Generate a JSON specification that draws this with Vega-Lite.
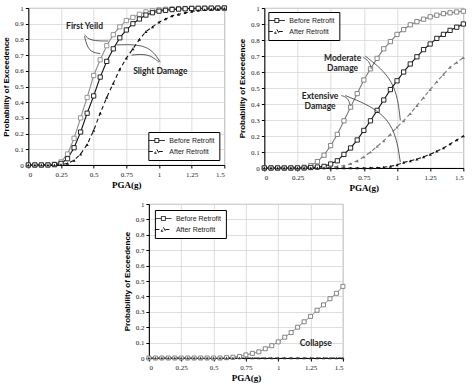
{
"$schema":"https://vega.github.io/schema/vega-lite/v6.json",
"padding":{"left":2,"top":3,"right":0,"bottom":0},
"background":"white",
"spacing":6,
"center":true,
"resolve":{"scale":{"color":"independent","strokeDash":"independent","x":"independent","y":"independent"},"legend":{"strokeDash":"independent","color":"independent"}},
"config":{
 "view":{"stroke":"#9a9a9a","strokeWidth":0.8},
 "axis":{"labelFont":"Liberation Serif","labelFontSize":7,"labelColor":"#222","grid":true,"gridColor":"#d6d6d6","gridWidth":0.8,"tickSize":3,"tickColor":"#000","domainColor":"#000","labelPadding":2,"titleFontWeight":"bold","titleColor":"#000","labelOverlap":false},
 "axisX":{"titleFont":"Liberation Serif","titleFontSize":9,"titlePadding":3,"format":".2~f"},
 "axisY":{"titleFont":"Liberation Sans","titleFontSize":8,"titlePadding":4,"format":".1~f"},
 "legend":{"fillColor":"white","strokeColor":"#000","padding":4,"labelFont":"Liberation Sans","labelFontSize":7,"labelColor":"#222","symbolSize":64,"labelOffset":8,"rowPadding":2,"symbolStrokeColor":"#000","cornerRadius":0},
 "text":{"font":"Lato","fontWeight":"bold","fontSize":8.5,"color":"#222"}
},
"datasets":{
"tl":[
{"pga":0,"p":0,"curve":"FY","retrofit":"Before Retrofit"},
{"pga":0.05,"p":0,"curve":"FY","retrofit":"Before Retrofit"},
{"pga":0.1,"p":0,"curve":"FY","retrofit":"Before Retrofit"},
{"pga":0.15,"p":0.002,"curve":"FY","retrofit":"Before Retrofit"},
{"pga":0.2,"p":0.005,"curve":"FY","retrofit":"Before Retrofit"},
{"pga":0.25,"p":0.02,"curve":"FY","retrofit":"Before Retrofit"},
{"pga":0.3,"p":0.07,"curve":"FY","retrofit":"Before Retrofit"},
{"pga":0.35,"p":0.17,"curve":"FY","retrofit":"Before Retrofit"},
{"pga":0.4,"p":0.30,"curve":"FY","retrofit":"Before Retrofit"},
{"pga":0.45,"p":0.43,"curve":"FY","retrofit":"Before Retrofit"},
{"pga":0.5,"p":0.57,"curve":"FY","retrofit":"Before Retrofit"},
{"pga":0.55,"p":0.67,"curve":"FY","retrofit":"Before Retrofit"},
{"pga":0.6,"p":0.76,"curve":"FY","retrofit":"Before Retrofit"},
{"pga":0.65,"p":0.83,"curve":"FY","retrofit":"Before Retrofit"},
{"pga":0.7,"p":0.88,"curve":"FY","retrofit":"Before Retrofit"},
{"pga":0.75,"p":0.92,"curve":"FY","retrofit":"Before Retrofit"},
{"pga":0.8,"p":0.94,"curve":"FY","retrofit":"Before Retrofit"},
{"pga":0.85,"p":0.96,"curve":"FY","retrofit":"Before Retrofit"},
{"pga":0.9,"p":0.975,"curve":"FY","retrofit":"Before Retrofit"},
{"pga":0.95,"p":0.982,"curve":"FY","retrofit":"Before Retrofit"},
{"pga":1,"p":0.988,"curve":"FY","retrofit":"Before Retrofit"},
{"pga":1.05,"p":0.992,"curve":"FY","retrofit":"Before Retrofit"},
{"pga":1.1,"p":0.994,"curve":"FY","retrofit":"Before Retrofit"},
{"pga":1.15,"p":0.996,"curve":"FY","retrofit":"Before Retrofit"},
{"pga":1.2,"p":0.997,"curve":"FY","retrofit":"Before Retrofit"},
{"pga":1.25,"p":0.998,"curve":"FY","retrofit":"Before Retrofit"},
{"pga":1.3,"p":0.998,"curve":"FY","retrofit":"Before Retrofit"},
{"pga":1.35,"p":0.999,"curve":"FY","retrofit":"Before Retrofit"},
{"pga":1.4,"p":0.999,"curve":"FY","retrofit":"Before Retrofit"},
{"pga":1.45,"p":1,"curve":"FY","retrofit":"Before Retrofit"},
{"pga":1.5,"p":1,"curve":"FY","retrofit":"Before Retrofit"},
{"pga":0,"p":0,"curve":"SD","retrofit":"Before Retrofit"},
{"pga":0.05,"p":0,"curve":"SD","retrofit":"Before Retrofit"},
{"pga":0.1,"p":0,"curve":"SD","retrofit":"Before Retrofit"},
{"pga":0.15,"p":0,"curve":"SD","retrofit":"Before Retrofit"},
{"pga":0.2,"p":0.002,"curve":"SD","retrofit":"Before Retrofit"},
{"pga":0.25,"p":0.01,"curve":"SD","retrofit":"Before Retrofit"},
{"pga":0.3,"p":0.04,"curve":"SD","retrofit":"Before Retrofit"},
{"pga":0.35,"p":0.11,"curve":"SD","retrofit":"Before Retrofit"},
{"pga":0.4,"p":0.21,"curve":"SD","retrofit":"Before Retrofit"},
{"pga":0.45,"p":0.33,"curve":"SD","retrofit":"Before Retrofit"},
{"pga":0.5,"p":0.44,"curve":"SD","retrofit":"Before Retrofit"},
{"pga":0.55,"p":0.56,"curve":"SD","retrofit":"Before Retrofit"},
{"pga":0.6,"p":0.66,"curve":"SD","retrofit":"Before Retrofit"},
{"pga":0.65,"p":0.74,"curve":"SD","retrofit":"Before Retrofit"},
{"pga":0.7,"p":0.81,"curve":"SD","retrofit":"Before Retrofit"},
{"pga":0.75,"p":0.86,"curve":"SD","retrofit":"Before Retrofit"},
{"pga":0.8,"p":0.90,"curve":"SD","retrofit":"Before Retrofit"},
{"pga":0.85,"p":0.93,"curve":"SD","retrofit":"Before Retrofit"},
{"pga":0.9,"p":0.955,"curve":"SD","retrofit":"Before Retrofit"},
{"pga":0.95,"p":0.97,"curve":"SD","retrofit":"Before Retrofit"},
{"pga":1,"p":0.98,"curve":"SD","retrofit":"Before Retrofit"},
{"pga":1.05,"p":0.985,"curve":"SD","retrofit":"Before Retrofit"},
{"pga":1.1,"p":0.99,"curve":"SD","retrofit":"Before Retrofit"},
{"pga":1.15,"p":0.993,"curve":"SD","retrofit":"Before Retrofit"},
{"pga":1.2,"p":0.995,"curve":"SD","retrofit":"Before Retrofit"},
{"pga":1.25,"p":0.997,"curve":"SD","retrofit":"Before Retrofit"},
{"pga":1.3,"p":0.998,"curve":"SD","retrofit":"Before Retrofit"},
{"pga":1.35,"p":0.998,"curve":"SD","retrofit":"Before Retrofit"},
{"pga":1.4,"p":0.999,"curve":"SD","retrofit":"Before Retrofit"},
{"pga":1.45,"p":0.999,"curve":"SD","retrofit":"Before Retrofit"},
{"pga":1.5,"p":1,"curve":"SD","retrofit":"Before Retrofit"},
{"pga":0,"p":0,"curve":"SD","retrofit":"After Retrofit"},
{"pga":0.05,"p":0,"curve":"SD","retrofit":"After Retrofit"},
{"pga":0.1,"p":0,"curve":"SD","retrofit":"After Retrofit"},
{"pga":0.15,"p":0,"curve":"SD","retrofit":"After Retrofit"},
{"pga":0.2,"p":0,"curve":"SD","retrofit":"After Retrofit"},
{"pga":0.25,"p":0.002,"curve":"SD","retrofit":"After Retrofit"},
{"pga":0.3,"p":0.01,"curve":"SD","retrofit":"After Retrofit"},
{"pga":0.35,"p":0.03,"curve":"SD","retrofit":"After Retrofit"},
{"pga":0.4,"p":0.07,"curve":"SD","retrofit":"After Retrofit"},
{"pga":0.45,"p":0.13,"curve":"SD","retrofit":"After Retrofit"},
{"pga":0.5,"p":0.22,"curve":"SD","retrofit":"After Retrofit"},
{"pga":0.55,"p":0.33,"curve":"SD","retrofit":"After Retrofit"},
{"pga":0.6,"p":0.43,"curve":"SD","retrofit":"After Retrofit"},
{"pga":0.65,"p":0.52,"curve":"SD","retrofit":"After Retrofit"},
{"pga":0.7,"p":0.61,"curve":"SD","retrofit":"After Retrofit"},
{"pga":0.75,"p":0.68,"curve":"SD","retrofit":"After Retrofit"},
{"pga":0.8,"p":0.74,"curve":"SD","retrofit":"After Retrofit"},
{"pga":0.85,"p":0.80,"curve":"SD","retrofit":"After Retrofit"},
{"pga":0.9,"p":0.85,"curve":"SD","retrofit":"After Retrofit"},
{"pga":0.95,"p":0.88,"curve":"SD","retrofit":"After Retrofit"},
{"pga":1,"p":0.91,"curve":"SD","retrofit":"After Retrofit"},
{"pga":1.05,"p":0.93,"curve":"SD","retrofit":"After Retrofit"},
{"pga":1.1,"p":0.95,"curve":"SD","retrofit":"After Retrofit"},
{"pga":1.15,"p":0.96,"curve":"SD","retrofit":"After Retrofit"},
{"pga":1.2,"p":0.97,"curve":"SD","retrofit":"After Retrofit"},
{"pga":1.25,"p":0.978,"curve":"SD","retrofit":"After Retrofit"},
{"pga":1.3,"p":0.985,"curve":"SD","retrofit":"After Retrofit"},
{"pga":1.35,"p":0.99,"curve":"SD","retrofit":"After Retrofit"},
{"pga":1.4,"p":0.993,"curve":"SD","retrofit":"After Retrofit"},
{"pga":1.45,"p":0.995,"curve":"SD","retrofit":"After Retrofit"},
{"pga":1.5,"p":0.997,"curve":"SD","retrofit":"After Retrofit"}
],
"tr":[
{"pga":0,"p":0,"curve":"MD","retrofit":"Before Retrofit"},
{"pga":0.05,"p":0,"curve":"MD","retrofit":"Before Retrofit"},
{"pga":0.1,"p":0,"curve":"MD","retrofit":"Before Retrofit"},
{"pga":0.15,"p":0,"curve":"MD","retrofit":"Before Retrofit"},
{"pga":0.2,"p":0,"curve":"MD","retrofit":"Before Retrofit"},
{"pga":0.25,"p":0,"curve":"MD","retrofit":"Before Retrofit"},
{"pga":0.3,"p":0.005,"curve":"MD","retrofit":"Before Retrofit"},
{"pga":0.35,"p":0.015,"curve":"MD","retrofit":"Before Retrofit"},
{"pga":0.4,"p":0.04,"curve":"MD","retrofit":"Before Retrofit"},
{"pga":0.45,"p":0.08,"curve":"MD","retrofit":"Before Retrofit"},
{"pga":0.5,"p":0.14,"curve":"MD","retrofit":"Before Retrofit"},
{"pga":0.55,"p":0.21,"curve":"MD","retrofit":"Before Retrofit"},
{"pga":0.6,"p":0.295,"curve":"MD","retrofit":"Before Retrofit"},
{"pga":0.65,"p":0.38,"curve":"MD","retrofit":"Before Retrofit"},
{"pga":0.7,"p":0.465,"curve":"MD","retrofit":"Before Retrofit"},
{"pga":0.75,"p":0.55,"curve":"MD","retrofit":"Before Retrofit"},
{"pga":0.8,"p":0.62,"curve":"MD","retrofit":"Before Retrofit"},
{"pga":0.85,"p":0.685,"curve":"MD","retrofit":"Before Retrofit"},
{"pga":0.9,"p":0.745,"curve":"MD","retrofit":"Before Retrofit"},
{"pga":0.95,"p":0.79,"curve":"MD","retrofit":"Before Retrofit"},
{"pga":1,"p":0.835,"curve":"MD","retrofit":"Before Retrofit"},
{"pga":1.05,"p":0.865,"curve":"MD","retrofit":"Before Retrofit"},
{"pga":1.1,"p":0.895,"curve":"MD","retrofit":"Before Retrofit"},
{"pga":1.15,"p":0.915,"curve":"MD","retrofit":"Before Retrofit"},
{"pga":1.2,"p":0.93,"curve":"MD","retrofit":"Before Retrofit"},
{"pga":1.25,"p":0.945,"curve":"MD","retrofit":"Before Retrofit"},
{"pga":1.3,"p":0.955,"curve":"MD","retrofit":"Before Retrofit"},
{"pga":1.35,"p":0.965,"curve":"MD","retrofit":"Before Retrofit"},
{"pga":1.4,"p":0.97,"curve":"MD","retrofit":"Before Retrofit"},
{"pga":1.45,"p":0.975,"curve":"MD","retrofit":"Before Retrofit"},
{"pga":1.5,"p":0.98,"curve":"MD","retrofit":"Before Retrofit"},
{"pga":0,"p":0,"curve":"ED","retrofit":"Before Retrofit"},
{"pga":0.05,"p":0,"curve":"ED","retrofit":"Before Retrofit"},
{"pga":0.1,"p":0,"curve":"ED","retrofit":"Before Retrofit"},
{"pga":0.15,"p":0,"curve":"ED","retrofit":"Before Retrofit"},
{"pga":0.2,"p":0,"curve":"ED","retrofit":"Before Retrofit"},
{"pga":0.25,"p":0,"curve":"ED","retrofit":"Before Retrofit"},
{"pga":0.3,"p":0,"curve":"ED","retrofit":"Before Retrofit"},
{"pga":0.35,"p":0.003,"curve":"ED","retrofit":"Before Retrofit"},
{"pga":0.4,"p":0.006,"curve":"ED","retrofit":"Before Retrofit"},
{"pga":0.45,"p":0.01,"curve":"ED","retrofit":"Before Retrofit"},
{"pga":0.5,"p":0.025,"curve":"ED","retrofit":"Before Retrofit"},
{"pga":0.55,"p":0.045,"curve":"ED","retrofit":"Before Retrofit"},
{"pga":0.6,"p":0.085,"curve":"ED","retrofit":"Before Retrofit"},
{"pga":0.65,"p":0.125,"curve":"ED","retrofit":"Before Retrofit"},
{"pga":0.7,"p":0.175,"curve":"ED","retrofit":"Before Retrofit"},
{"pga":0.75,"p":0.235,"curve":"ED","retrofit":"Before Retrofit"},
{"pga":0.8,"p":0.295,"curve":"ED","retrofit":"Before Retrofit"},
{"pga":0.85,"p":0.36,"curve":"ED","retrofit":"Before Retrofit"},
{"pga":0.9,"p":0.425,"curve":"ED","retrofit":"Before Retrofit"},
{"pga":0.95,"p":0.49,"curve":"ED","retrofit":"Before Retrofit"},
{"pga":1,"p":0.545,"curve":"ED","retrofit":"Before Retrofit"},
{"pga":1.05,"p":0.6,"curve":"ED","retrofit":"Before Retrofit"},
{"pga":1.1,"p":0.65,"curve":"ED","retrofit":"Before Retrofit"},
{"pga":1.15,"p":0.695,"curve":"ED","retrofit":"Before Retrofit"},
{"pga":1.2,"p":0.74,"curve":"ED","retrofit":"Before Retrofit"},
{"pga":1.25,"p":0.775,"curve":"ED","retrofit":"Before Retrofit"},
{"pga":1.3,"p":0.81,"curve":"ED","retrofit":"Before Retrofit"},
{"pga":1.35,"p":0.835,"curve":"ED","retrofit":"Before Retrofit"},
{"pga":1.4,"p":0.86,"curve":"ED","retrofit":"Before Retrofit"},
{"pga":1.45,"p":0.88,"curve":"ED","retrofit":"Before Retrofit"},
{"pga":1.5,"p":0.9,"curve":"ED","retrofit":"Before Retrofit"},
{"pga":0,"p":0,"curve":"MD","retrofit":"After Retrofit"},
{"pga":0.05,"p":0,"curve":"MD","retrofit":"After Retrofit"},
{"pga":0.1,"p":0,"curve":"MD","retrofit":"After Retrofit"},
{"pga":0.15,"p":0,"curve":"MD","retrofit":"After Retrofit"},
{"pga":0.2,"p":0,"curve":"MD","retrofit":"After Retrofit"},
{"pga":0.25,"p":0,"curve":"MD","retrofit":"After Retrofit"},
{"pga":0.3,"p":0,"curve":"MD","retrofit":"After Retrofit"},
{"pga":0.35,"p":0,"curve":"MD","retrofit":"After Retrofit"},
{"pga":0.4,"p":0,"curve":"MD","retrofit":"After Retrofit"},
{"pga":0.45,"p":0.002,"curve":"MD","retrofit":"After Retrofit"},
{"pga":0.5,"p":0.005,"curve":"MD","retrofit":"After Retrofit"},
{"pga":0.55,"p":0.01,"curve":"MD","retrofit":"After Retrofit"},
{"pga":0.6,"p":0.015,"curve":"MD","retrofit":"After Retrofit"},
{"pga":0.65,"p":0.027,"curve":"MD","retrofit":"After Retrofit"},
{"pga":0.7,"p":0.045,"curve":"MD","retrofit":"After Retrofit"},
{"pga":0.75,"p":0.07,"curve":"MD","retrofit":"After Retrofit"},
{"pga":0.8,"p":0.1,"curve":"MD","retrofit":"After Retrofit"},
{"pga":0.85,"p":0.135,"curve":"MD","retrofit":"After Retrofit"},
{"pga":0.9,"p":0.17,"curve":"MD","retrofit":"After Retrofit"},
{"pga":0.95,"p":0.21,"curve":"MD","retrofit":"After Retrofit"},
{"pga":1,"p":0.255,"curve":"MD","retrofit":"After Retrofit"},
{"pga":1.05,"p":0.295,"curve":"MD","retrofit":"After Retrofit"},
{"pga":1.1,"p":0.34,"curve":"MD","retrofit":"After Retrofit"},
{"pga":1.15,"p":0.39,"curve":"MD","retrofit":"After Retrofit"},
{"pga":1.2,"p":0.44,"curve":"MD","retrofit":"After Retrofit"},
{"pga":1.25,"p":0.49,"curve":"MD","retrofit":"After Retrofit"},
{"pga":1.3,"p":0.54,"curve":"MD","retrofit":"After Retrofit"},
{"pga":1.35,"p":0.585,"curve":"MD","retrofit":"After Retrofit"},
{"pga":1.4,"p":0.63,"curve":"MD","retrofit":"After Retrofit"},
{"pga":1.45,"p":0.66,"curve":"MD","retrofit":"After Retrofit"},
{"pga":1.5,"p":0.69,"curve":"MD","retrofit":"After Retrofit"},
{"pga":0,"p":0,"curve":"ED","retrofit":"After Retrofit"},
{"pga":0.05,"p":0,"curve":"ED","retrofit":"After Retrofit"},
{"pga":0.1,"p":0,"curve":"ED","retrofit":"After Retrofit"},
{"pga":0.15,"p":0,"curve":"ED","retrofit":"After Retrofit"},
{"pga":0.2,"p":0,"curve":"ED","retrofit":"After Retrofit"},
{"pga":0.25,"p":0,"curve":"ED","retrofit":"After Retrofit"},
{"pga":0.3,"p":0,"curve":"ED","retrofit":"After Retrofit"},
{"pga":0.35,"p":0,"curve":"ED","retrofit":"After Retrofit"},
{"pga":0.4,"p":0,"curve":"ED","retrofit":"After Retrofit"},
{"pga":0.45,"p":0,"curve":"ED","retrofit":"After Retrofit"},
{"pga":0.5,"p":0,"curve":"ED","retrofit":"After Retrofit"},
{"pga":0.55,"p":0,"curve":"ED","retrofit":"After Retrofit"},
{"pga":0.6,"p":0,"curve":"ED","retrofit":"After Retrofit"},
{"pga":0.65,"p":0,"curve":"ED","retrofit":"After Retrofit"},
{"pga":0.7,"p":0,"curve":"ED","retrofit":"After Retrofit"},
{"pga":0.75,"p":0,"curve":"ED","retrofit":"After Retrofit"},
{"pga":0.8,"p":0.001,"curve":"ED","retrofit":"After Retrofit"},
{"pga":0.85,"p":0.002,"curve":"ED","retrofit":"After Retrofit"},
{"pga":0.9,"p":0.005,"curve":"ED","retrofit":"After Retrofit"},
{"pga":0.95,"p":0.01,"curve":"ED","retrofit":"After Retrofit"},
{"pga":1,"p":0.02,"curve":"ED","retrofit":"After Retrofit"},
{"pga":1.05,"p":0.035,"curve":"ED","retrofit":"After Retrofit"},
{"pga":1.1,"p":0.045,"curve":"ED","retrofit":"After Retrofit"},
{"pga":1.15,"p":0.055,"curve":"ED","retrofit":"After Retrofit"},
{"pga":1.2,"p":0.07,"curve":"ED","retrofit":"After Retrofit"},
{"pga":1.25,"p":0.085,"curve":"ED","retrofit":"After Retrofit"},
{"pga":1.3,"p":0.105,"curve":"ED","retrofit":"After Retrofit"},
{"pga":1.35,"p":0.125,"curve":"ED","retrofit":"After Retrofit"},
{"pga":1.4,"p":0.15,"curve":"ED","retrofit":"After Retrofit"},
{"pga":1.45,"p":0.175,"curve":"ED","retrofit":"After Retrofit"},
{"pga":1.5,"p":0.2,"curve":"ED","retrofit":"After Retrofit"}
],
"bc":[
{"pga":0,"p":0,"curve":"CO","retrofit":"Before Retrofit"},
{"pga":0.05,"p":0,"curve":"CO","retrofit":"Before Retrofit"},
{"pga":0.1,"p":0,"curve":"CO","retrofit":"Before Retrofit"},
{"pga":0.15,"p":0,"curve":"CO","retrofit":"Before Retrofit"},
{"pga":0.2,"p":0,"curve":"CO","retrofit":"Before Retrofit"},
{"pga":0.25,"p":0,"curve":"CO","retrofit":"Before Retrofit"},
{"pga":0.3,"p":0,"curve":"CO","retrofit":"Before Retrofit"},
{"pga":0.35,"p":0,"curve":"CO","retrofit":"Before Retrofit"},
{"pga":0.4,"p":0,"curve":"CO","retrofit":"Before Retrofit"},
{"pga":0.45,"p":0,"curve":"CO","retrofit":"Before Retrofit"},
{"pga":0.5,"p":0,"curve":"CO","retrofit":"Before Retrofit"},
{"pga":0.55,"p":0,"curve":"CO","retrofit":"Before Retrofit"},
{"pga":0.6,"p":0.002,"curve":"CO","retrofit":"Before Retrofit"},
{"pga":0.65,"p":0.005,"curve":"CO","retrofit":"Before Retrofit"},
{"pga":0.7,"p":0.01,"curve":"CO","retrofit":"Before Retrofit"},
{"pga":0.75,"p":0.02,"curve":"CO","retrofit":"Before Retrofit"},
{"pga":0.8,"p":0.03,"curve":"CO","retrofit":"Before Retrofit"},
{"pga":0.85,"p":0.04,"curve":"CO","retrofit":"Before Retrofit"},
{"pga":0.9,"p":0.06,"curve":"CO","retrofit":"Before Retrofit"},
{"pga":0.95,"p":0.08,"curve":"CO","retrofit":"Before Retrofit"},
{"pga":1,"p":0.105,"curve":"CO","retrofit":"Before Retrofit"},
{"pga":1.05,"p":0.135,"curve":"CO","retrofit":"Before Retrofit"},
{"pga":1.1,"p":0.165,"curve":"CO","retrofit":"Before Retrofit"},
{"pga":1.15,"p":0.2,"curve":"CO","retrofit":"Before Retrofit"},
{"pga":1.2,"p":0.235,"curve":"CO","retrofit":"Before Retrofit"},
{"pga":1.25,"p":0.27,"curve":"CO","retrofit":"Before Retrofit"},
{"pga":1.3,"p":0.31,"curve":"CO","retrofit":"Before Retrofit"},
{"pga":1.35,"p":0.345,"curve":"CO","retrofit":"Before Retrofit"},
{"pga":1.4,"p":0.385,"curve":"CO","retrofit":"Before Retrofit"},
{"pga":1.45,"p":0.42,"curve":"CO","retrofit":"Before Retrofit"},
{"pga":1.5,"p":0.465,"curve":"CO","retrofit":"Before Retrofit"},
{"pga":0,"p":0,"curve":"COA","retrofit":"After Retrofit"},
{"pga":0.05,"p":0,"curve":"COA","retrofit":"After Retrofit"},
{"pga":0.1,"p":0,"curve":"COA","retrofit":"After Retrofit"},
{"pga":0.15,"p":0,"curve":"COA","retrofit":"After Retrofit"},
{"pga":0.2,"p":0,"curve":"COA","retrofit":"After Retrofit"},
{"pga":0.25,"p":0,"curve":"COA","retrofit":"After Retrofit"},
{"pga":0.3,"p":0,"curve":"COA","retrofit":"After Retrofit"},
{"pga":0.35,"p":0,"curve":"COA","retrofit":"After Retrofit"},
{"pga":0.4,"p":0,"curve":"COA","retrofit":"After Retrofit"},
{"pga":0.45,"p":0,"curve":"COA","retrofit":"After Retrofit"},
{"pga":0.5,"p":0,"curve":"COA","retrofit":"After Retrofit"},
{"pga":0.55,"p":0,"curve":"COA","retrofit":"After Retrofit"},
{"pga":0.6,"p":0,"curve":"COA","retrofit":"After Retrofit"},
{"pga":0.65,"p":0,"curve":"COA","retrofit":"After Retrofit"},
{"pga":0.7,"p":0,"curve":"COA","retrofit":"After Retrofit"},
{"pga":0.75,"p":0,"curve":"COA","retrofit":"After Retrofit"},
{"pga":0.8,"p":0,"curve":"COA","retrofit":"After Retrofit"},
{"pga":0.85,"p":0,"curve":"COA","retrofit":"After Retrofit"},
{"pga":0.9,"p":0,"curve":"COA","retrofit":"After Retrofit"},
{"pga":0.95,"p":0,"curve":"COA","retrofit":"After Retrofit"},
{"pga":1,"p":0,"curve":"COA","retrofit":"After Retrofit"},
{"pga":1.05,"p":0,"curve":"COA","retrofit":"After Retrofit"},
{"pga":1.1,"p":0,"curve":"COA","retrofit":"After Retrofit"},
{"pga":1.15,"p":0,"curve":"COA","retrofit":"After Retrofit"},
{"pga":1.2,"p":0,"curve":"COA","retrofit":"After Retrofit"},
{"pga":1.25,"p":0,"curve":"COA","retrofit":"After Retrofit"},
{"pga":1.3,"p":0,"curve":"COA","retrofit":"After Retrofit"},
{"pga":1.35,"p":0,"curve":"COA","retrofit":"After Retrofit"},
{"pga":1.4,"p":0,"curve":"COA","retrofit":"After Retrofit"},
{"pga":1.45,"p":0,"curve":"COA","retrofit":"After Retrofit"},
{"pga":1.5,"p":0,"curve":"COA","retrofit":"After Retrofit"}
],
"tl_notes":[
{"pga":0.43,"p":0.885,"label":"First Yeild"},
{"pga":1.01,"p":0.6,"label":"Slight Damage"}
],
"tl_arrows":[
{"arrow":"a1","ord":1,"pga":0.43,"p":0.83},
{"arrow":"a1","ord":2,"pga":0.47,"p":0.79},
{"arrow":"a1","ord":3,"pga":0.612,"p":0.79},
{"arrow":"a2","ord":1,"pga":0.43,"p":0.82},
{"arrow":"a2","ord":2,"pga":0.46,"p":0.72},
{"arrow":"a2","ord":3,"pga":0.55,"p":0.71},
{"arrow":"a3","ord":1,"pga":1.01,"p":0.655},
{"arrow":"a3","ord":2,"pga":0.92,"p":0.77},
{"arrow":"a3","ord":3,"pga":0.675,"p":0.765},
{"arrow":"a4","ord":1,"pga":1.0,"p":0.655},
{"arrow":"a4","ord":2,"pga":0.92,"p":0.71},
{"arrow":"a4","ord":3,"pga":0.79,"p":0.7}
],
"tr_notes":[
{"pga":0.59,"p":0.69,"label":["Moderate","Damage"]},
{"pga":0.42,"p":0.45,"label":["Extensive","Damage"]}
],
"bc_notes":[
{"pga":1.29,"p":0.1,"label":"Collapse"}
],
"tr_arrows":[
{"arrow":"b1","ord":1,"pga":0.746,"p":0.69},
{"arrow":"b1","ord":2,"pga":0.79,"p":0.67},
{"arrow":"b1","ord":3,"pga":0.807,"p":0.62},
{"arrow":"b2","ord":1,"pga":0.76,"p":0.70},
{"arrow":"b2","ord":2,"pga":0.99,"p":0.55},
{"arrow":"b2","ord":3,"pga":1.025,"p":0.298},
{"arrow":"b3","ord":1,"pga":0.58,"p":0.453},
{"arrow":"b3","ord":2,"pga":0.63,"p":0.44},
{"arrow":"b3","ord":3,"pga":0.648,"p":0.391},
{"arrow":"b4","ord":1,"pga":0.61,"p":0.453},
{"arrow":"b4","ord":2,"pga":0.97,"p":0.33},
{"arrow":"b4","ord":3,"pga":1.025,"p":0.037}
]
},
"vconcat":[
{"hconcat":[
 {"width":196,"height":157,
  "encoding":{
   "x":{"field":"pga","type":"quantitative","scale":{"domain":[0,1.5],"nice":false},"axis":{"values":[0,0.25,0.5,0.75,1,1.25,1.5],"title":"PGA(g)"}},
   "y":{"field":"p","type":"quantitative","scale":{"domain":[0,1],"nice":false},"axis":{"values":[0,0.1,0.2,0.3,0.4,0.5,0.6,0.7,0.8,0.9,1],"title":"Probability of Exceedence"}}
  },
  "layer":[
   {"data":{"name":"tl"},"mark":{"type":"line","strokeWidth":1.1},
    "encoding":{
     "color":{"field":"curve","type":"nominal","scale":{"domain":["FY","SD"],"range":["#8c8c8c","#111111"]},"legend":null},
     "strokeDash":{"field":"retrofit","type":"nominal","scale":{"domain":["Before Retrofit","After Retrofit"],"range":[[1,0],[4,3]]},
      "legend":{"title":null,"orient":"bottom-right","offset":5,
       "encode":{"symbols":{"update":{"shape":{"signal":"datum.value === 'Before Retrofit' ? 'M-2,0H-0.5M0.5,0H2M-0.5,-0.5H0.5V0.5H-0.5Z' : 'M-2,0H-0.5M0.5,0H2M0,-0.55L0.55,0.45H-0.55Z'"},"stroke":{"value":"#000"},"fill":{"value":"white"},"strokeWidth":{"value":0.9}}}}}}
    }},
   {"data":{"name":"tl"},"transform":[{"filter":"datum.retrofit === 'Before Retrofit'"}],
    "mark":{"type":"point","shape":"square","filled":false,"fill":"white","fillOpacity":1,"opacity":1,"size":18,"strokeWidth":0.9},
    "encoding":{"color":{"field":"curve","type":"nominal","legend":null}}},
   {"data":{"name":"tl"},"transform":[{"filter":"datum.retrofit === 'After Retrofit'"}],
    "mark":{"type":"point","shape":"triangle-up","filled":true,"opacity":1,"size":10},
    "encoding":{"color":{"field":"curve","type":"nominal","legend":null}}},
   {"data":{"name":"tl_arrows"},"mark":{"type":"line","interpolate":"basis","stroke":"#333","strokeWidth":0.8},
    "encoding":{"detail":{"field":"arrow"},"order":{"field":"ord"}}},
   {"data":{"name":"tl_notes"},"mark":{"type":"text","align":"center","baseline":"middle"},
    "encoding":{"text":{"field":"label"}}}
  ]},
 {"width":199,"height":160,
  "encoding":{
   "x":{"field":"pga","type":"quantitative","scale":{"domain":[0,1.5],"nice":false},"axis":{"values":[0,0.25,0.5,0.75,1,1.25,1.5],"title":"PGA(g)"}},
   "y":{"field":"p","type":"quantitative","scale":{"domain":[0,1],"nice":false},"axis":{"values":[0,0.1,0.2,0.3,0.4,0.5,0.6,0.7,0.8,0.9,1],"title":"Probability of Exceedence"}}
  },
  "layer":[
   {"data":{"name":"tr"},"mark":{"type":"line","strokeWidth":1.1},
    "encoding":{
     "color":{"field":"curve","type":"nominal","scale":{"domain":["MD","ED"],"range":["#7a7a7a","#111111"]},"legend":null},
     "strokeDash":{"field":"retrofit","type":"nominal","scale":{"domain":["Before Retrofit","After Retrofit"],"range":[[1,0],[4,3]]},
      "legend":{"title":null,"orient":"top-left","offset":4,
       "encode":{"symbols":{"update":{"shape":{"signal":"datum.value === 'Before Retrofit' ? 'M-2,0H-0.5M0.5,0H2M-0.5,-0.5H0.5V0.5H-0.5Z' : 'M-2,0H-0.5M0.5,0H2M0,-0.55L0.55,0.45H-0.55Z'"},"stroke":{"value":"#000"},"fill":{"value":"white"},"strokeWidth":{"value":0.9}}}}}}
    }},
   {"data":{"name":"tr"},"transform":[{"filter":"datum.retrofit === 'Before Retrofit'"}],
    "mark":{"type":"point","shape":"square","filled":false,"fill":"white","fillOpacity":1,"opacity":1,"size":18,"strokeWidth":0.9},
    "encoding":{"color":{"field":"curve","type":"nominal","legend":null}}},
   {"data":{"name":"tr"},"transform":[{"filter":"datum.retrofit === 'After Retrofit'"}],
    "mark":{"type":"point","shape":"triangle-up","filled":true,"opacity":1,"size":10},
    "encoding":{"color":{"field":"curve","type":"nominal","legend":null}}},
   {"data":{"name":"tr_arrows"},"mark":{"type":"line","interpolate":"basis","stroke":"#333","strokeWidth":0.8},
    "encoding":{"detail":{"field":"arrow"},"order":{"field":"ord"}}},
   {"data":{"name":"tr_notes"},"mark":{"type":"text","align":"center","baseline":"middle","lineHeight":10},
    "encoding":{"text":{"field":"label"}}}
  ]}
],"spacing":8,
"resolve":{"scale":{"color":"independent","strokeDash":"independent","x":"independent","y":"independent"},"legend":{"strokeDash":"independent","color":"independent"}}},
{"width":194,"height":154,
  "encoding":{
   "x":{"field":"pga","type":"quantitative","scale":{"domain":[0,1.5],"nice":false},"axis":{"values":[0,0.25,0.5,0.75,1,1.25,1.5],"title":"PGA(g)"}},
   "y":{"field":"p","type":"quantitative","scale":{"domain":[0,1],"nice":false},"axis":{"values":[0,0.1,0.2,0.3,0.4,0.5,0.6,0.7,0.8,0.9,1],"title":"Probability of Exceedence"}}
  },
  "layer":[
   {"data":{"name":"bc"},"mark":{"type":"line","strokeWidth":1},
    "encoding":{
     "color":{"field":"curve","type":"nominal","scale":{"domain":["CO","COA"],"range":["#777777","#333333"]},"legend":null},
     "strokeDash":{"field":"retrofit","type":"nominal","scale":{"domain":["Before Retrofit","After Retrofit"],"range":[[1,0],[4,3]]},
      "legend":{"title":null,"orient":"top-left","offset":6,
       "encode":{"symbols":{"update":{"shape":{"signal":"datum.value === 'Before Retrofit' ? 'M-2,0H-0.5M0.5,0H2M-0.5,-0.5H0.5V0.5H-0.5Z' : 'M-2,0H-0.5M0.5,0H2M0,-0.55L0.55,0.45H-0.55Z'"},"stroke":{"value":"#000"},"fill":{"value":"white"},"strokeWidth":{"value":0.9}}}}}}
    }},
   {"data":{"name":"bc"},"transform":[{"filter":"datum.retrofit === 'Before Retrofit'"}],
    "mark":{"type":"point","shape":"square","filled":false,"fill":"white","fillOpacity":1,"opacity":1,"size":16,"strokeWidth":0.9},
    "encoding":{"color":{"field":"curve","type":"nominal","legend":null}}},
   {"data":{"name":"bc"},"transform":[{"filter":"datum.retrofit === 'After Retrofit'"}],
    "mark":{"type":"point","shape":"triangle-up","filled":true,"opacity":1,"size":10},
    "encoding":{"color":{"field":"curve","type":"nominal","legend":null}}},
   {"data":{"name":"bc_notes"},"mark":{"type":"text","align":"center","baseline":"middle"},
    "encoding":{"text":{"field":"label"}}}
  ]}
]
}
